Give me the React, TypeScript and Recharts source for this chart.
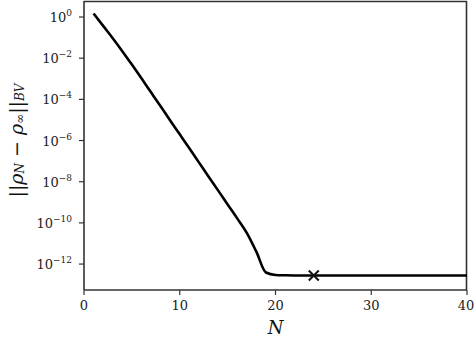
import React from "react";
import { CartesianGrid, ComposedChart, Line, ReferenceLine, Scatter, XAxis, YAxis } from "recharts";

// N (iteration count) and ||rho_N - rho_inf||_BV
const nValues = [
  1, 2, 3, 4, 5, 6, 7, 8, 9, 10, 11, 12, 13, 14, 15, 16, 17, 18, 19, 20,
  21, 22, 23, 24, 25, 26, 27, 28, 29, 30, 31, 32, 33, 34, 35, 36, 37, 38, 39, 40,
];
const errValues = [
  1.48, 3.7e-1, 9.3e-2, 2.2e-2, 4.9e-3, 1.05e-3, 2.2e-4, 4.6e-5, 9.5e-6, 2.0e-6,
  4.2e-7, 8.7e-8, 1.8e-8, 3.8e-9, 7.9e-10, 1.66e-10, 3.3e-11, 4.0e-12, 3.9e-13, 2.95e-13,
  2.85e-13, 2.8e-13, 2.8e-13, 2.8e-13, 2.8e-13, 2.8e-13, 2.8e-13, 2.8e-13, 2.8e-13, 2.8e-13,
  2.8e-13, 2.8e-13, 2.8e-13, 2.8e-13, 2.8e-13, 2.8e-13, 2.8e-13, 2.8e-13, 2.8e-13, 2.8e-13,
];
const markerN = [24];
const markerErr = [2.8e-13];

const xTicks = [0, 10, 20, 30, 40];
const yExponents = [0, -2, -4, -6, -8, -10, -12];
const yTicks = yExponents.map((e) => Math.pow(10, e));
const yDomain = [5.5e-14, 6.0];
const xDomain = [0, 40];

const data = nValues.map((n, i) => ({ n, err: errValues[i] }));
const markerData = markerN.map((n, i) => ({ n, err: markerErr[i] }));

const W = 474;
const H = 340;
const margin = { top: 1, right: 7, left: 0, bottom: 0 };
const yAxisWidth = 84;
const xAxisHeight = 50;
const plotTop = margin.top;
const plotRight = W - margin.right;
const spine = "#333";
const font = "DejaVu Serif";

const YTick = ({ x, y, payload }: any) => {
  const exp = Math.round(Math.log10(payload.value));
  return (
    <text x={x - 5} y={y + 5} textAnchor="end" fontFamily={font} fontSize={13} fill="#222">
      <tspan>10</tspan>
      <tspan dy={-6} fontSize={9}>
        {exp < 0 ? "\u2212" + -exp : String(exp)}
      </tspan>
    </text>
  );
};

const XTick = ({ x, y, payload }: any) => (
  <text x={x} y={y + 13} textAnchor="middle" fontFamily={font} fontSize={13} fill="#222">
    {payload.value}
  </text>
);

const Cross = ({ cx, cy }: any) => (
  <g stroke="#111" strokeWidth={2}>
    <line x1={cx - 5} y1={cy - 5} x2={cx + 5} y2={cy + 5} />
    <line x1={cx - 5} y1={cy + 5} x2={cx + 5} y2={cy - 5} />
  </g>
);

const YLabel = () => {
  const bottom = H - margin.bottom - xAxisHeight;
  const cx = 16;
  const cy = (plotTop + bottom) / 2 - 5;
  return (
    <text
      x={cx}
      y={cy}
      transform={`rotate(-90 ${cx} ${cy})`}
      textAnchor="middle"
      dominantBaseline="central"
      fontFamily={font}
      fontSize={19}
      fill="#111"
    >
      <tspan>||</tspan>
      <tspan fontStyle="italic">ρ</tspan>
      <tspan fontStyle="italic" fontSize={12} dy={4}>N</tspan>
      <tspan dy={-4}> − </tspan>
      <tspan fontStyle="italic">ρ</tspan>
      <tspan fontSize={12} dy={4}>∞</tspan>
      <tspan dy={-4}>||</tspan>
      <tspan fontStyle="italic" fontSize={12} dy={4}>BV</tspan>
    </text>
  );
};

export default function App() {
  return (
    <div style={{ position: "absolute", left: 0, top: 0, width: W, height: H, background: "#fff" }}>
      <ComposedChart width={W} height={H} data={data} margin={margin}>
        {/* top and right spines of the axes box */}
        <CartesianGrid
          stroke={spine}
          strokeWidth={1.6}
          strokeDasharray="0"
          horizontalPoints={[plotTop + 0.5]}
          verticalPoints={[plotRight - 0.5]}
        />
        <XAxis
          dataKey="n"
          type="number"
          domain={xDomain}
          ticks={xTicks}
          tick={<XTick />}
          tickSize={5}
          height={xAxisHeight}
          axisLine={{ stroke: spine, strokeWidth: 1.6 }}
          tickLine={{ stroke: spine, strokeWidth: 1.2 }}
          allowDataOverflow
          label={{
            value: "N",
            position: "insideBottom",
            offset: 6,
            fontFamily: font,
            fontStyle: "italic",
            fontSize: 18,
            fill: "#111",
          }}
        />
        <YAxis
          dataKey="err"
          type="number"
          scale="log"
          domain={yDomain}
          ticks={yTicks}
          allowDataOverflow
          width={yAxisWidth}
          tick={<YTick />}
          tickSize={5}
          axisLine={{ stroke: spine, strokeWidth: 1.6 }}
          tickLine={{ stroke: spine, strokeWidth: 1.2 }}
          label={{ position: "insideLeft", content: <YLabel /> }}
        />
        <ReferenceLine
          segment={[
            { x: xDomain[0], y: 1 },
            { x: xDomain[1], y: 1 },
          ]}
          stroke="none"
        />
        <Line
          dataKey="err"
          stroke="#000"
          strokeWidth={2.6}
          dot={false}
          type="monotone"
          isAnimationActive={false}
        />
        <Scatter data={markerData} dataKey="err" shape={<Cross />} isAnimationActive={false} />
      </ComposedChart>
    </div>
  );
}
